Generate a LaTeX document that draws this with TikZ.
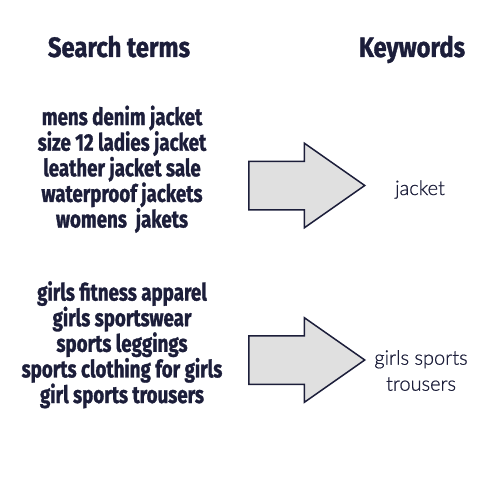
\documentclass[tikz,border=0pt]{standalone}
\usepackage{fontspec}
\usetikzlibrary{shapes.arrows, positioning}
\newfontfamily\headfont[FakeStretch=0.85, FakeBold=1.2]{Fira Sans}
\newfontfamily\termfont[FakeStretch=0.78, FakeBold=1.2]{Fira Sans}
\newfontfamily\kwfont[FakeBold=0.8]{Lato Light}
\definecolor{inknavy}{RGB}{28, 30, 58}
\definecolor{arrowgray}{RGB}{224, 224, 224}

\begin{document}
\begin{tikzpicture}[x=1pt, y=-1pt,
    heading/.style={font=\headfont\bfseries\fontsize{28}{32}\selectfont, text=inknavy, anchor=base, inner sep=0pt},
    terms/.style={font=\termfont\bfseries\fontsize{24}{25.6}\selectfont, text=inknavy, align=center, anchor=base, inner sep=0pt},
    keyword/.style={font=\kwfont\fontsize{20}{26}\selectfont, text=inknavy, align=center, anchor=base, inner sep=0pt},
    bigarrow/.style={single arrow, draw=inknavy, fill=arrowgray, line width=1.5pt, minimum height=116pt, inner xsep=0pt, inner ysep=23.5pt, single arrow head extend=18pt, single arrow tip angle=70, text height=0pt, text depth=0pt, anchor=tail}
]
\useasboundingbox (0,0) rectangle (500,500);

% Column headings
\node[heading] (searchhead) at (119,57) {Search terms};
\node[heading] (keyhead) at (412,57) {Keywords};

% Jacket group
\node[terms] (jacketterms) at (122,227.5) {mens denim jacket\\size 12 ladies jacket\\leather jacket sale\\waterproof jackets\\womens\ \ jakets};
\node[bigarrow] (jacketarrow) at (248,185.5) {};
\node[keyword] (jacketkey) at (420,195) {jacket};

% Sports group
\node[terms] (sportsterms) at (122,403) {girls fitness apparel\\girls sportswear\\sports leggings\\sports clothing for girls\\girl sports trousers};
\node[bigarrow] (sportsarrow) at (248,360) {};
\node[keyword] (sportskey) at (421,390.7) {girls sports\\trousers};
\end{tikzpicture}
\end{document}
